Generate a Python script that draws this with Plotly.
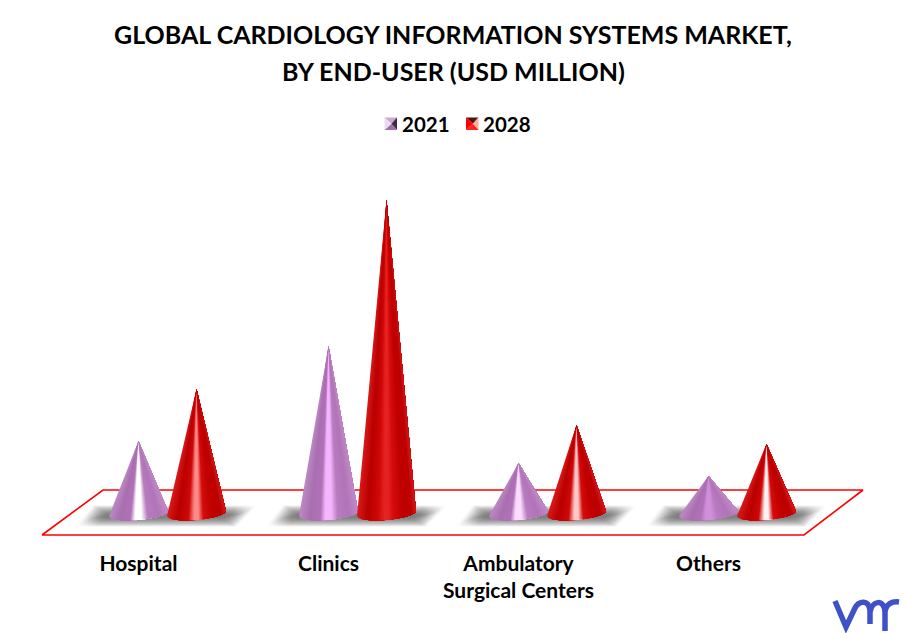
import numpy as np
import plotly.graph_objects as go
import plotly.colors as pc

# values (no scale is printed, so they are in picture units)
categories = ["Hospital", "Clinics", "Ambulatory<br>Surgical Centers", "Others"]
series_names = ["2021", "2028"]
values_2021 = [74, 169, 52, 39]
values_2028 = [126, 315, 90, 71]

title_line_1 = "GLOBAL CARDIOLOGY INFORMATION SYSTEMS MARKET,"
title_line_2 = "BY END-USER (USD MILLION)"

W, H = 905, 633
BOTTOM = 88
X0_PX, STEP_PX = 138.5, 190.0
BASE_PX = 515
FONT = "Lato"

purple_mid = ["#ffffff", "#f5b5ff", "#fbdcff", "#d18fda"]
red_mid = ["#ff8a8a", "#e62222", "#ffc8c8", "#fff4f4"]


def purple_scale(mid):
    return [[0, "#bb88c2"], [0.18, "#a96fb0"], [0.36, "#b172b8"], [0.44, mid], [0.55, mid],
            [0.66, "#b87cbe"], [0.85, "#b274b9"], [1, "#c088c6"]]


def red_scale(mid):
    return [[0, "#d81818"], [0.18, "#b80000"], [0.36, "#d00808"], [0.46, mid], [0.53, mid],
            [0.62, "#d40c0c"], [0.78, "#c00000"], [0.92, "#bc0000"], [1, "#d81818"]]


def to_x(px):
    return (px - X0_PX) / STEP_PX


def to_y(py):
    return BASE_PX - py


def paper(px, py):
    return px / W, (H - BOTTOM - py) / (H - BOTTOM)


def poly_path(points):
    coords = [paper(*p) for p in points]
    return "M " + " L ".join(f"{x:.5f} {y:.5f}" for x, y in coords) + " Z"


def arc_y(u):
    return -1 + 5 * u - 6.5 * np.sqrt(np.clip(1 - (2 * u - 1) ** 2, 0, 1))


def add_cone(fig, center, value, scale, half=0.155, n=46):
    edges = np.linspace(0, 1, n + 1)
    colors = pc.sample_colorscale(scale, list((edges[:-1] + edges[1:]) / 2))
    dense = np.linspace(0, 1, 61)
    # painted left to right, each slice covers everything on its right, so no seams
    for left, color in zip(edges[:-1], colors):
        u = np.concatenate([[left], dense[dense > left]])
        xs = center - half + 2 * half * u
        ys = arc_y(u)
        fig.add_trace(go.Scatter(
            x=np.concatenate([[center], xs, [center]]),
            y=np.concatenate([[value], ys, [value]]),
            mode="lines", fill="toself", fillcolor=color,
            line=dict(width=0), showlegend=False, hoverinfo="skip"))


def add_shadow(fig, tick):
    # soft blur faked with stacked low alpha layers, each smaller than the last
    layers = 9
    for k in range(layers):
        y_low, y_high = -12 + 1.1 * k, 10 - 1.1 * k
        lb, rb = to_x(X0_PX - 64 + 2 * k), to_x(X0_PX + 98 - 2 * k)
        lt, rt = to_x(X0_PX - 46 + 2 * k), to_x(X0_PX + 120 - 2 * k)
        grey = 0.03 if k == 0 else 0.12
        grad = [[0, "rgba(60,60,60,0)"], [0.12, f"rgba(60,60,60,{grey})"],
                [0.88, f"rgba(60,60,60,{grey})"], [1, "rgba(60,60,60,0)"]]
        fig.add_trace(go.Scatter(
            x=[tick + lb, tick + rb, tick + rt, tick + lt, tick + lb],
            y=[y_low, y_low, y_high, y_high, y_low],
            mode="lines", fill="toself",
            fillgradient=dict(type="horizontal", colorscale=grad),
            line=dict(width=0), showlegend=False, hoverinfo="skip"))


fig = go.Figure()

# floor
floor_px = [(42, 535), (103, 490), (863, 490), (804, 535), (42, 535)]
fig.add_trace(go.Scatter(
    x=[to_x(p[0]) for p in floor_px], y=[to_y(p[1]) for p in floor_px],
    mode="lines", line=dict(color="#ff0000", width=1.6),
    showlegend=False, hoverinfo="skip"))

for i in range(len(categories)):
    add_shadow(fig, i)

offset = to_x(X0_PX + 58)
for i in range(len(categories)):
    add_cone(fig, i, values_2021[i], purple_scale(purple_mid[i]))
    add_cone(fig, i + offset, values_2028[i], red_scale(red_mid[i]))

# legend entries only, the swatches themselves are the bevel shapes below
# one legend per entry, a single legend cannot get the entries this close
for name, legend_id in zip(series_names, ["legend", "legend2"]):
    fig.add_trace(go.Scatter(x=[None], y=[None], mode="markers", name=name, legend=legend_id,
                             marker=dict(symbol="square", size=1, color="rgba(0,0,0,0)")))

swatches = [
    (384.5, 117.5, ["#cfa9d6", "#3d2c42", "#a06fa8", "#ecdcf0"]),
    (466, 117.5, ["#551212", "#f4b09c", "#ff2020", "#ff0000"]),
]
shapes = []
size = 12.5
for sx, sy, cols in swatches:
    tl, tr = (sx, sy), (sx + size, sy)
    bl, br = (sx, sy + size), (sx + size, sy + size)
    mid = (sx + size * 0.55, sy + size * 0.5)
    for pts, col in zip([(tl, tr, mid), (tr, br, mid), (br, bl, mid), (bl, tl, mid)], cols):
        shapes.append(dict(type="path", xref="paper", yref="paper", path=poly_path(pts),
                           fillcolor=col, line=dict(width=0), layer="above"))

# logo
logo = ("M {} {} L {} {} L {} {} C {} {} {} {} {} {} L {} {} "
        "M {} {} C {} {} {} {} {} {} L {} {} "
        "M {} {} C {} {} {} {} {} {}")
pts = [(835, 601), (846, 627), (855, 608), (858, 602), (868, 598), (870, 610), (870, 624),
       (870, 612), (872, 601), (884, 598), (885, 612), (885, 631),
       (885, 612), (886, 604), (892, 601), (899, 602)]
pts_paper = [v for p in pts for v in paper(*p)]
shapes.append(dict(type="path", xref="paper", yref="paper", path=logo.format(*pts_paper),
                   line=dict(color="#3f51c9", width=5.5), layer="above"))

legend_y = (H - BOTTOM - 124) / (H - BOTTOM)
legend_style = dict(orientation="h", xanchor="left", y=legend_y, yanchor="middle",
                    font=dict(family=FONT, size=20.5, weight=700), bgcolor="rgba(0,0,0,0)")

fig.update_layout(
    width=W, height=H,
    margin=dict(l=0, r=0, t=0, b=BOTTOM, pad=0),
    paper_bgcolor="white", plot_bgcolor="white",
    font=dict(family=FONT, color="#000000"),
    title=dict(text=title_line_1, x=453 / W, xanchor="center", y=1 - 35 / H, yanchor="middle",
               font=dict(family=FONT, size=25, weight=700, color="#000000")),
    legend=dict(x=362 / W, **legend_style),
    legend2=dict(x=443 / W, **legend_style),
    shapes=shapes,
)
fig.add_annotation(text=title_line_2, xref="paper", yref="paper", x=453.5 / W,
                   y=(H - BOTTOM - 71) / (H - BOTTOM), xanchor="center", yanchor="middle",
                   showarrow=False, font=dict(family=FONT, size=25, weight=700, color="#000000"))
fig.update_xaxes(range=[to_x(0), to_x(W)], tickmode="array", tickvals=list(range(len(categories))),
                 ticktext=categories, showgrid=False, zeroline=False, showline=False, ticks="",
                 tickfont=dict(family=FONT, size=21, weight=700, color="#000000"), ticklabelstandoff=4)
fig.update_yaxes(range=[to_y(H - BOTTOM), to_y(0)], visible=False, showgrid=False, zeroline=False)

fig.write_html("out.html", config=dict(displayModeBar=False), post_script="document.body.style.margin='0';")
